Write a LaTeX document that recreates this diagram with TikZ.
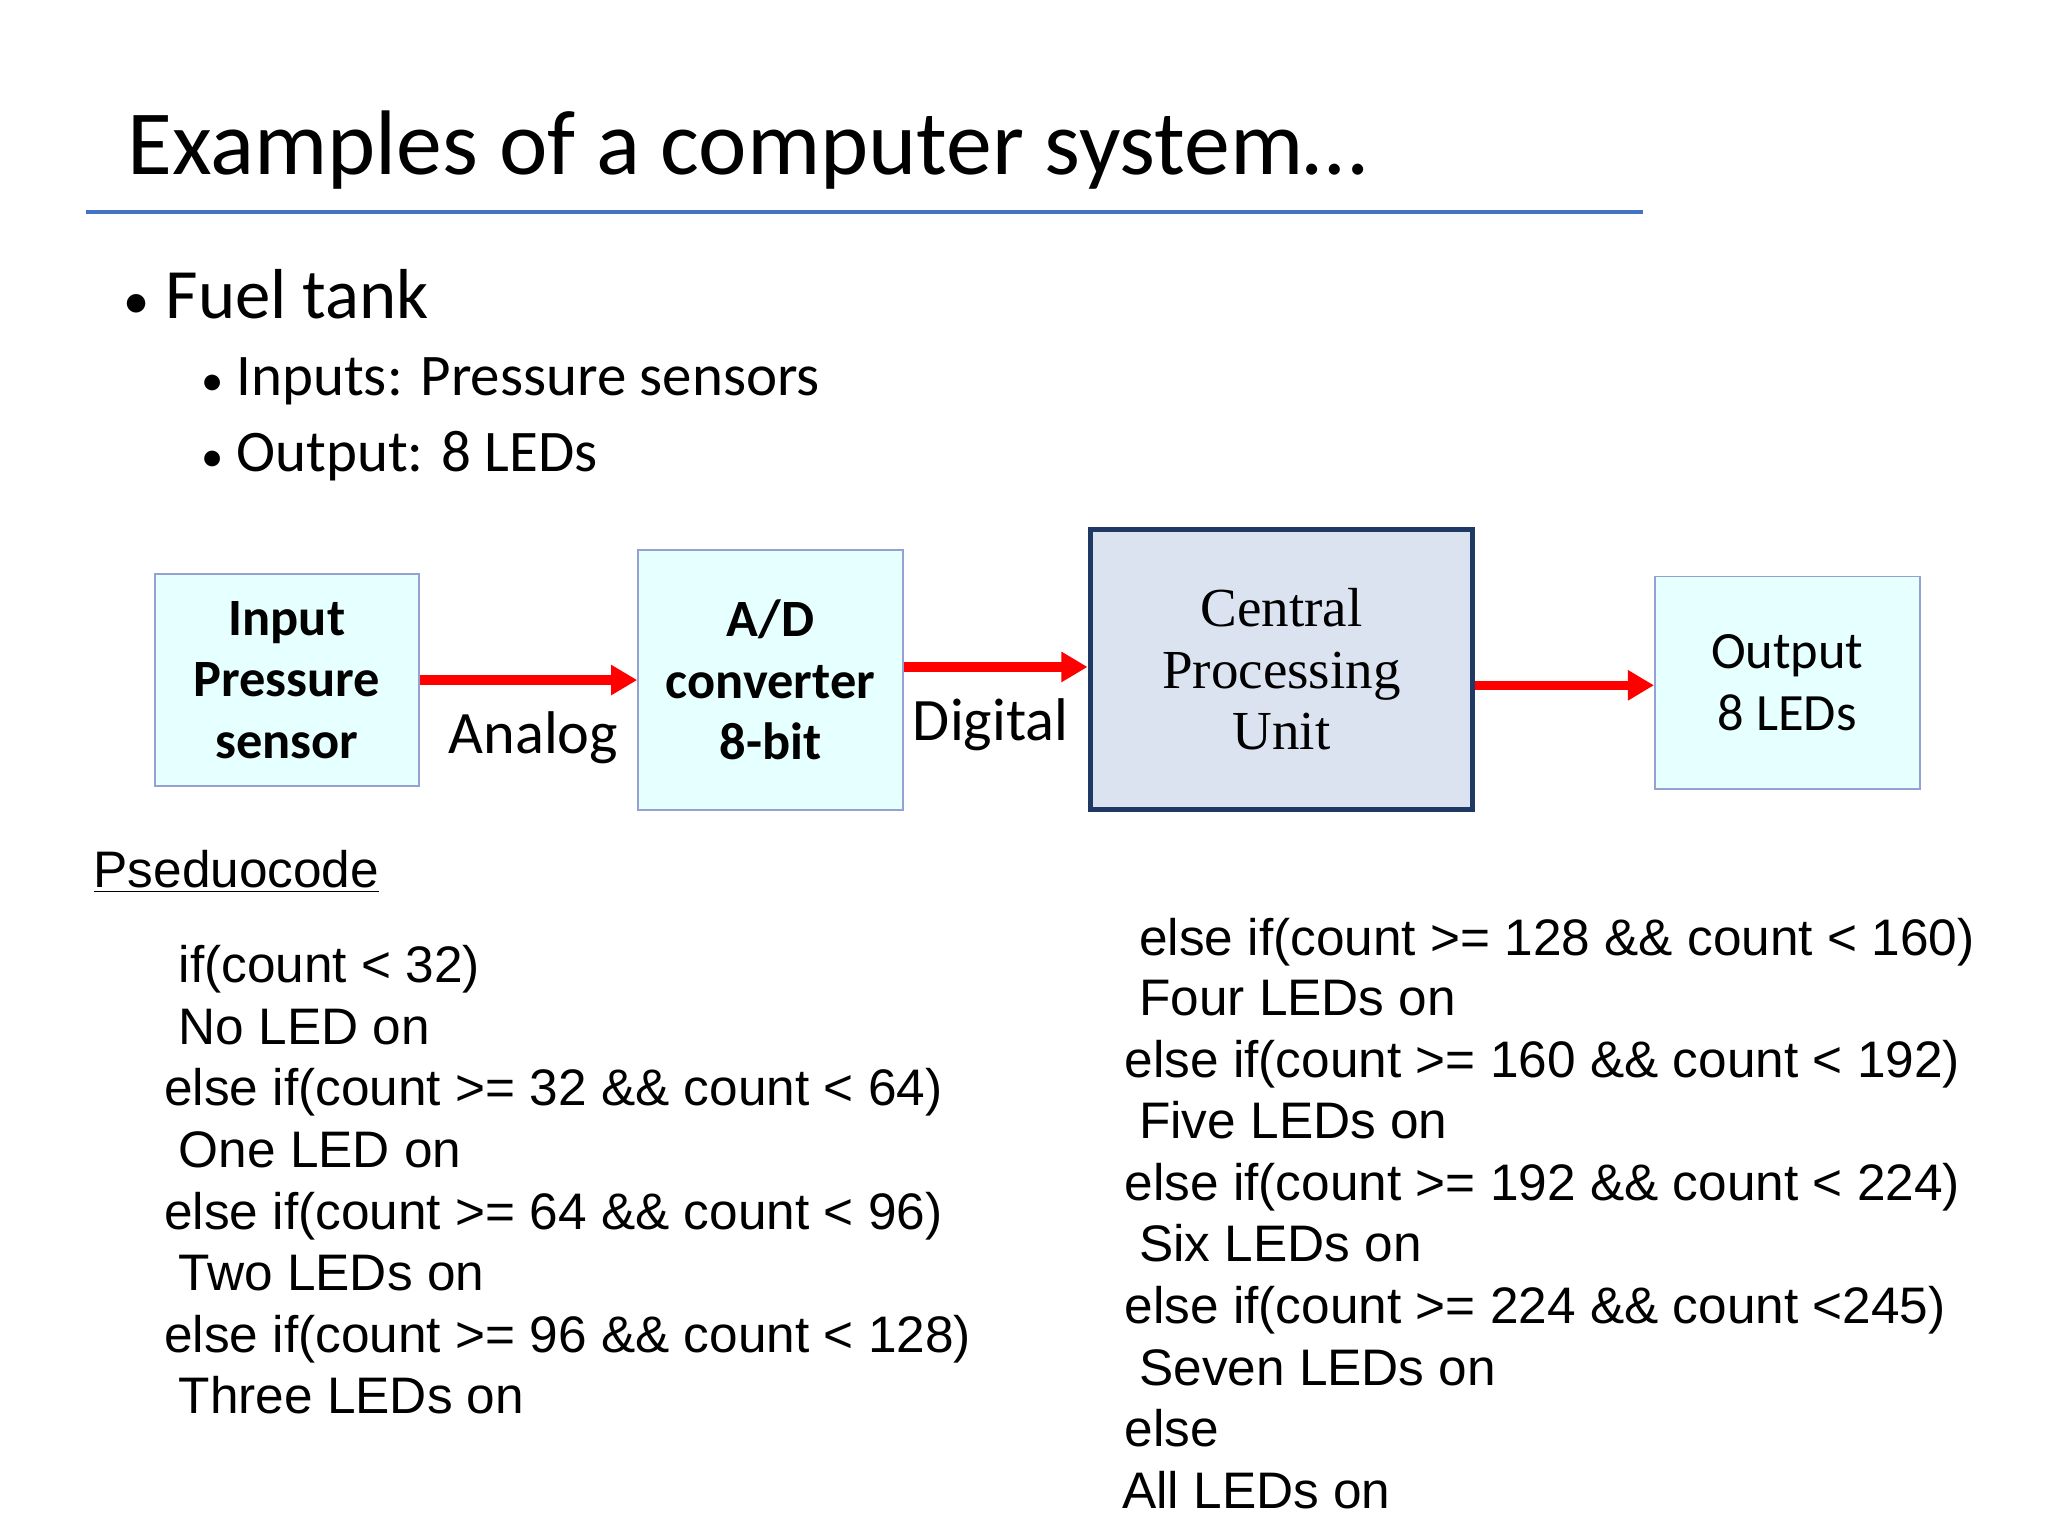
\documentclass[tikz,border=0pt]{standalone}
\usepackage{fontspec}
\setmainfont{Carlito}
\newfontfamily\arial{Liberation Sans}
\newfontfamily\tms{Liberation Serif}
\usetikzlibrary{arrows.meta}
\definecolor{boxfill}{RGB}{230,255,255}
\definecolor{boxline}{RGB}{150,160,210}
\begin{document}
\begin{tikzpicture}[x=0.5pt,y=-0.5pt,
  blk/.style={draw=boxline,fill=boxfill,line width=0.7pt,align=center,font=\fontsize{20}{23.5}\selectfont\bfseries,inner sep=0},
  arr/.style={draw=red,line width=3.5pt,-{Triangle[length=10pt,width=11pt]}},
  pc/.style={anchor=base west,font=\arial\fontsize{19.6}{24}\selectfont,inner sep=0}]
\useasboundingbox (0,0) rectangle (1563,1172);
\node[anchor=base west,inner sep=0,font=\fontsize{35}{40}\selectfont] (title) at (97,133) {Examples of a computer system…};
\draw[draw={rgb,255:red,68;green,114;blue,196},line width=1.5pt] (66,162) coordinate (l1) -- (1254,162) coordinate (l2);
\node[anchor=base west,inner sep=0,font=\fontsize{27}{32}\selectfont] (b1) at (94,243) {{\fontsize{20}{20}\selectfont\textbullet}\ Fuel tank};
\node[anchor=base west,inner sep=0,font=\fontsize{22.5}{28}\selectfont] (b2) at (153,302) {{\fontsize{17}{17}\selectfont\textbullet}\ Inputs: Pressure sensors};
\node[anchor=base west,inner sep=0,font=\fontsize{22.5}{28}\selectfont] (b3) at (153,360) {{\fontsize{17}{17}\selectfont\textbullet}\ Output: 8 LEDs};
\node[blk,minimum width=101pt,minimum height=81pt] (in) at (219,519) {Input\\Pressure\\sensor};
\node[blk,minimum width=101pt,minimum height=99pt] (ad) at (588,519) {A/D\\converter\\8-bit};
\node[blk,draw={rgb,255:red,31;green,56;blue,100},line width=2pt,fill={rgb,255:red,220;green,227;blue,240},minimum width=146pt,minimum height=107pt,font=\tms\fontsize{21}{23.5}\selectfont] (cpu) at (978,511) {Central\\Processing\\Unit};
\node[blk,font=\fontsize{20}{23.5}\selectfont,minimum width=101pt,minimum height=81pt] (out) at (1364,521) {Output\\8 LEDs};
\draw[arr] (in.east|-0,519) -- (ad.west|-0,519);
\draw[arr] (ad.east|-0,509) -- (cpu.west|-0,509);
\draw[arr] (cpu.east|-0,523) -- (out.west|-0,523);
\node[anchor=base,inner sep=0,font=\fontsize{23}{28}\selectfont] (an) at (407,575) {Analog};
\node[anchor=base,inner sep=0,font=\fontsize{23}{28}\selectfont] (dg) at (756,565) {Digital};
\node[pc] (ps) at (71,677) {\underline{Pseduocode}};
\node[pc] (p1) at (136,750) {if(count < 32)};
\node[pc] (p2) at (136,797) {No LED on};
\node[pc] (p3) at (125,844) {else if(count >= 32 \&\& count < 64)};
\node[pc] (p4) at (136,891) {One LED on};
\node[pc] (p5) at (125,938) {else if(count >= 64 \&\& count < 96)};
\node[pc] (p6) at (136,985) {Two LEDs on};
\node[pc] (p7) at (125,1032) {else if(count >= 96 \&\& count < 128)};
\node[pc] (p8) at (136,1079) {Three LEDs on};
\node[pc] (q1) at (869,729) {else if(count >= 128 \&\& count < 160)};
\node[pc] (q2) at (869,775) {Four LEDs on};
\node[pc] (q3) at (858,822) {else if(count >= 160 \&\& count < 192)};
\node[pc] (q4) at (869,869) {Five LEDs on};
\node[pc] (q5) at (858,916) {else if(count >= 192 \&\& count < 224)};
\node[pc] (q6) at (869,963) {Six LEDs on};
\node[pc] (q7) at (858,1010) {else if(count >= 224 \&\& count <245)};
\node[pc] (q8) at (869,1057) {Seven LEDs on};
\node[pc] (q9) at (858,1104) {else};
\node[pc] (q10) at (856,1151) {All LEDs on};
\end{tikzpicture}
\end{document}
